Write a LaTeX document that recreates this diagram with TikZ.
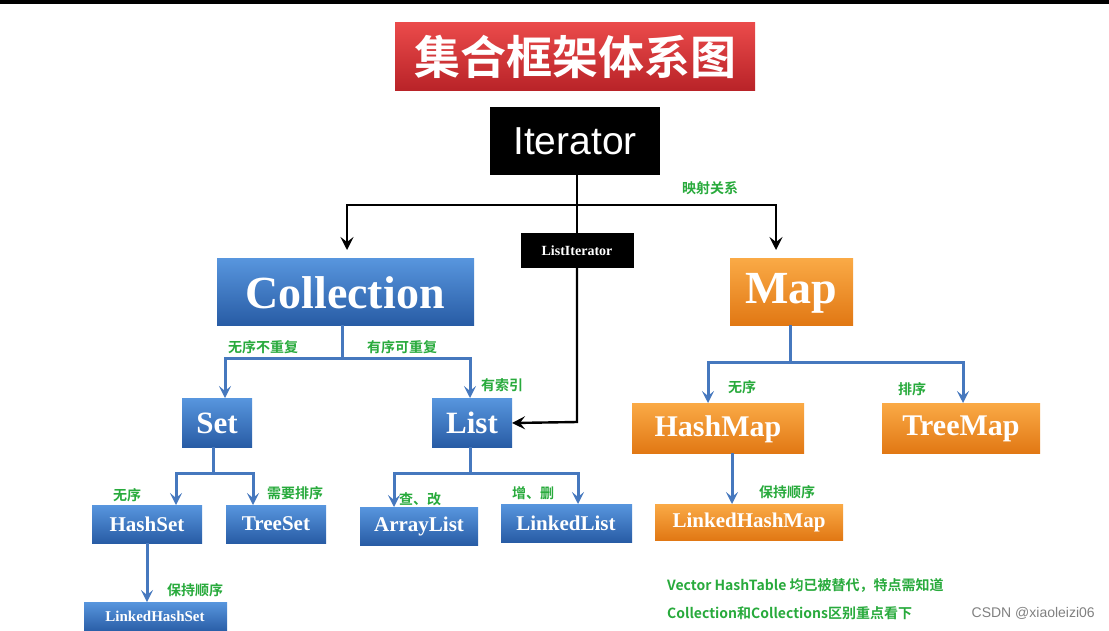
\documentclass[tikz,border=0pt]{standalone}
\usepackage{fontspec}
\setmainfont{Liberation Serif}
\newfontfamily\cjk{Noto Sans CJK SC}[BoldFont={* Bold}]
\newfontfamily\sfx{Liberation Sans}
\usetikzlibrary{arrows.meta}
\begin{document}
\begin{tikzpicture}[x=1pt,y=-1pt,
  blu/.style={shade, top color={rgb,255:red,88;green,150;blue,222}, bottom color={rgb,255:red,40;green,92;blue,165}},
  org/.style={shade, top color={rgb,255:red,250;green,170;blue,70}, bottom color={rgb,255:red,225;green,120;blue,20}},
  red/.style={shade, top color={rgb,255:red,235;green,75;blue,75}, bottom color={rgb,255:red,185;green,35;blue,40}},
  blk/.style={fill=black},
  lbl/.style={text={rgb,255:red,40;green,170;blue,60}, font=\cjk\bfseries\fontsize{14}{14}\selectfont, inner sep=0pt},
  bline/.style={draw={rgb,255:red,70;green,120;blue,190}, line width=3pt, -{Stealth[length=12pt,width=12pt,inset=5pt]}},
  kline/.style={draw=black, line width=2.4pt, -{Stealth[length=13pt,width=13pt,inset=5pt]}},
]
\useasboundingbox (0,0) rectangle (1109,630);
\fill[black] (0,0) rectangle (1109,4);
\path[red] (395,22) rectangle (755,90);
\node[text=white,font=\cjk\bfseries\fontsize{46}{46}\selectfont] (title) at (575,57) {集合框架体系图};
\path[blk] (490,107) rectangle (660,175);
\node[text=white,font=\sfx\fontsize{39}{39}\selectfont] (it) at (575,141) {Iterator};
\path[blk] (521,233) rectangle (634,268);
\node[text=white,font=\bfseries\fontsize{14}{14}\selectfont] (li) at (577,251) {ListIterator};
\path[blu] (217,258) rectangle (474,325);
\node[text=white,font=\bfseries\fontsize{46}{46}\selectfont] (col) at (345,293) {Collection};
\path[org] (730,258) rectangle (853,325);
\node[text=white,font=\bfseries\fontsize{46}{46}\selectfont] (map) at (791,293) {Map};
\path[blu] (182,398) rectangle (252,447);
\node[text=white,font=\bfseries\fontsize{31}{31}\selectfont] (set) at (217,423) {Set};
\path[blu] (432,398) rectangle (512,447);
\node[text=white,font=\bfseries\fontsize{31}{31}\selectfont] (list) at (472,423) {List};
\path[blu] (92,505) rectangle (202,543);
\node[text=white,font=\bfseries\fontsize{21}{21}\selectfont] (hs) at (147,524) {HashSet};
\path[blu] (226,505) rectangle (326,543);
\node[text=white,font=\bfseries\fontsize{21}{21}\selectfont] (ts) at (276,524) {TreeSet};
\path[blu] (360,507) rectangle (478,545);
\node[text=white,font=\bfseries\fontsize{21}{21}\selectfont] (al) at (419,526) {ArrayList};
\path[blu] (501,504) rectangle (632,542);
\node[text=white,font=\bfseries\fontsize{21}{21}\selectfont] (ll) at (566,523) {LinkedList};
\path[blu] (84,602) rectangle (227,632);
\node[text=white,font=\bfseries\fontsize{15}{15}\selectfont] (lhs) at (155,616) {LinkedHashSet};
\path[org] (632,403) rectangle (804,453);
\node[text=white,font=\bfseries\fontsize{30}{30}\selectfont] (hm) at (718,429) {HashMap};
\path[org] (882,403) rectangle (1040,453);
\node[text=white,font=\bfseries\fontsize{30}{30}\selectfont] (tm) at (961,429) {TreeMap};
\path[org] (655,504) rectangle (843,540);
\node[text=white,font=\bfseries\fontsize{21}{21}\selectfont] (lhm) at (749,522) {LinkedHashMap};
\coordinate (k0) at (577,205);
\coordinate (kL) at (347,205);
\coordinate (kR) at (776,205);
\draw[draw=black,line width=2.4pt] (577,175) -- (k0);
\draw[kline] (k0) -- (kL) -- (347,250);
\draw[kline] (k0) -- (kR) -- (776,250);
\draw[draw=black,line width=2.4pt] (k0) -- (577,233);
\draw[kline] (577,268) -- (577,422) -- (list.center -| 512,0);
\draw[bline,-] (342,325) -- (342,358);
\draw[bline] (342,358) -- (225,358) -- (225,398);
\draw[bline] (342,358) -- (470,358) -- (470,398);
\draw[bline,-] (213,447) -- (213,473);
\draw[bline] (213,473) -- (176,473) -- (176,505);
\draw[bline] (213,473) -- (253,473) -- (253,505);
\draw[bline,-] (470,447) -- (470,473);
\draw[bline] (470,473) -- (394,473) -- (394,507);
\draw[bline] (470,473) -- (578,473) -- (578,504);
\draw[bline] (147,543) -- (147,602);
\draw[bline,-] (790,325) -- (790,362);
\draw[bline] (790,362) -- (708,362) -- (708,403);
\draw[bline] (790,362) -- (963,362) -- (963,403);
\draw[bline] (732,453) -- (732,504);
\node[lbl] at (710,188) {映射关系};
\node[lbl] at (263,347) {无序不重复};
\node[lbl] at (402,347) {有序可重复};
\node[lbl] at (502,385) {有索引};
\node[lbl] at (127,495) {无序};
\node[lbl] at (295,493) {需要排序};
\node[lbl] at (420,499) {查、改};
\node[lbl] at (533,493) {增、删};
\node[lbl] at (195,590) {保持顺序};
\node[lbl] at (742,387) {无序};
\node[lbl] at (912,389) {排序};
\node[lbl] at (787,492) {保持顺序};
\node[lbl,anchor=west,font=\cjk\bfseries\fontsize{14}{14}\selectfont] at (667,585) {Vector HashTable 均已被替代，特点需知道};
\node[lbl,anchor=west,font=\cjk\bfseries\fontsize{14}{14}\selectfont] at (667,613) {Collection和Collections区别重点看下};
\node[anchor=east,text=gray,font=\sfx\fontsize{14}{14}\selectfont,inner sep=0pt] at (1095,613) {CSDN @xiaoleizi06};
\end{tikzpicture}
\end{document}
